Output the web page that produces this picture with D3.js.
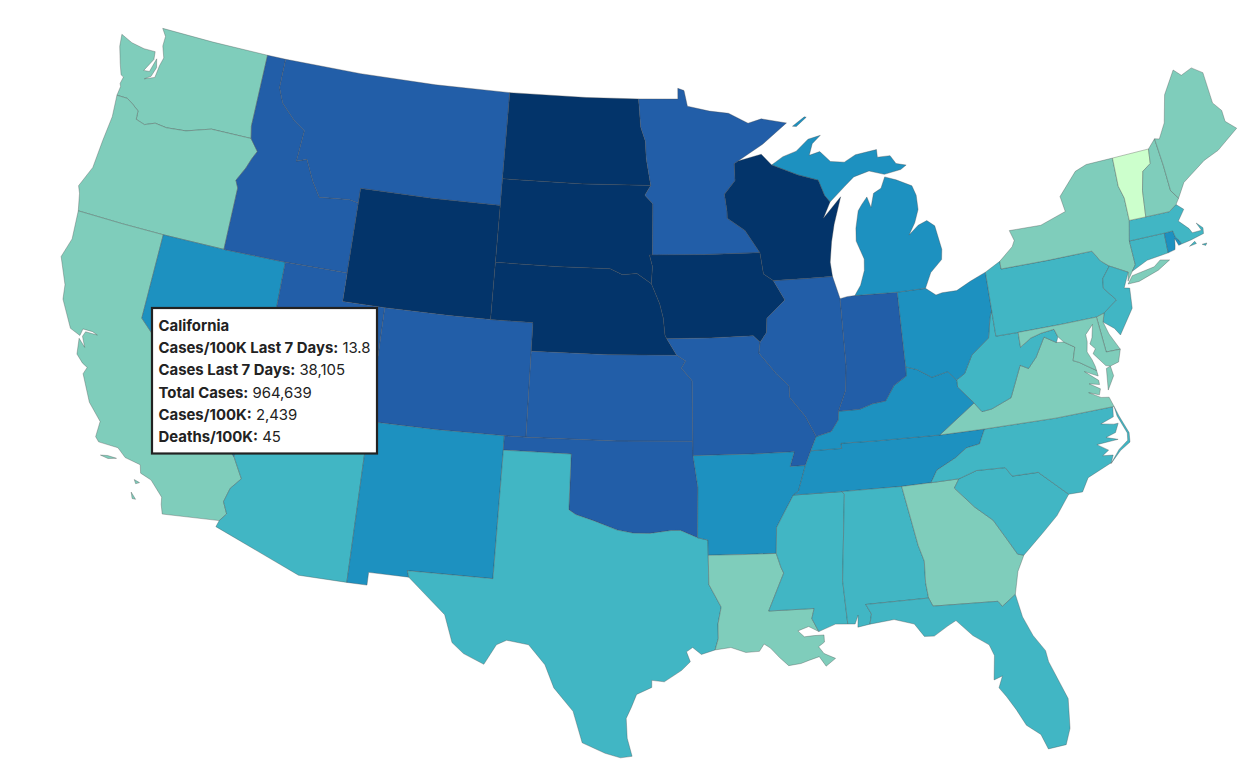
<!DOCTYPE html>
<html><head><meta charset="utf-8">
<script src="https://cdn.jsdelivr.net/npm/d3@7"></script>
<style>html,body{margin:0;padding:0;background:#fff}svg{display:block}</style>
</head><body><svg id="map" width="1243" height="764"></svg>
<script>
// --- state outlines: [lon,lat] rings ---
const WA=[[[-122.76,49],[-120,49],[-117.03,49],[-117.04,46.42],[-116.92,46],[-118.98,46],[-119.3,45.93],[-120.2,45.72],[-121.2,45.65],[-121.8,45.7],[-122.3,45.55],[-122.77,45.65],[-122.8,45.95],[-123.2,46.15],[-123.5,46.27],[-124.05,46.27],[-124.0,46.6],[-124.07,46.7],[-124.0,46.95],[-124.15,47.0],[-124.35,47.35],[-124.65,47.95],[-124.73,48.38],[-124.1,48.2],[-123.4,48.12],[-122.8,48.13],[-122.75,47.85],[-123.1,47.38],[-122.8,47.4],[-122.62,47.9],[-122.5,47.6],[-122.65,47.25],[-122.95,47.1],[-122.45,47.25],[-122.38,47.7],[-122.28,48],[-122.5,48.4],[-122.5,48.75]]];
const OR=[[[-124.05,46.27],[-123.5,46.27],[-123.2,46.15],[-122.8,45.95],[-122.77,45.65],[-122.3,45.55],[-121.8,45.7],[-121.2,45.65],[-120.2,45.72],[-119.3,45.93],[-118.98,46],[-116.92,46],[-116.47,45.6],[-116.67,45.3],[-116.85,44.95],[-117.2,44.45],[-117.03,44.2],[-117.03,43.83],[-117.03,42],[-120,42],[-122,42],[-124.21,42],[-124.4,42.6],[-124.55,42.84],[-124.15,43.6],[-124.07,44.6],[-123.96,45.5]]];
const CA=[[[-124.21,42],[-122,42],[-120,42],[-120,39],[-114.63,35],[-114.14,34.3],[-114.53,33.9],[-114.7,33.4],[-114.47,33],[-114.72,32.72],[-117.12,32.53],[-117.25,32.85],[-117.3,33.1],[-117.9,33.6],[-118.4,33.75],[-118.5,34.03],[-119.2,34.15],[-119.6,34.42],[-120.47,34.45],[-120.65,34.6],[-120.63,35.15],[-121.3,35.7],[-121.9,36.6],[-121.8,36.85],[-122.05,36.95],[-122.4,37.2],[-122.5,37.75],[-122.15,37.5],[-122.38,37.85],[-122.3,38.03],[-121.75,38.03],[-122.0,38.1],[-122.45,38.1],[-122.5,37.85],[-123,38],[-123.7,38.9],[-123.8,39.4],[-124.35,40.3],[-124.1,41]],[[-120.25,34.02],[-119.95,34.07],[-119.55,34.05],[-119.9,33.97]],[[-118.6,33.48],[-118.35,33.42],[-118.5,33.35]],[[-118.6,33.03],[-118.35,32.82],[-118.5,32.82]]];
const NV=[[[-120,42],[-117.03,42],[-114.04,42],[-114.05,37],[-114.05,36.2],[-114.74,36.1],[-114.63,35.5],[-114.63,35],[-120,39]]];
const ID=[[[-117.03,49],[-116.05,49],[-116.05,47.97],[-115.72,47.45],[-114.95,46.93],[-114.35,46.65],[-114.45,45.55],[-113.95,45.68],[-113.45,44.95],[-113,44.45],[-112.3,44.5],[-111.5,44.55],[-111.05,44.48],[-111.05,42],[-114.04,42],[-117.03,42],[-117.03,43.83],[-117.03,44.2],[-117.2,44.45],[-116.85,44.95],[-116.67,45.3],[-116.47,45.6],[-116.92,46],[-117.04,46.42]]];
const MT=[[[-116.05,49],[-112,49],[-108,49],[-104.05,49],[-104.05,45.94],[-104.05,45],[-107.5,45],[-111.05,45],[-111.05,44.48],[-111.5,44.55],[-112.3,44.5],[-113,44.45],[-113.45,44.95],[-113.95,45.68],[-114.45,45.55],[-114.35,46.65],[-114.95,46.93],[-115.72,47.45],[-116.05,47.97]]];
const WY=[[[-111.05,45],[-107.5,45],[-104.05,45],[-104.05,43],[-104.05,41],[-106,41],[-109.05,41],[-111.05,41],[-111.05,42],[-111.05,44.48]]];
const UT=[[[-114.04,42],[-111.05,42],[-111.05,41],[-109.05,41],[-109.05,37],[-111,37],[-114.05,37]]];
const CO=[[[-109.05,41],[-106,41],[-104.05,41],[-102.05,41],[-102.05,40],[-102.04,37],[-103,37],[-106,37],[-109.05,37]]];
const AZ=[[[-114.05,37],[-111,37],[-109.05,37],[-109.05,31.33],[-111.07,31.33],[-114.81,32.49],[-114.72,32.72],[-114.47,33],[-114.7,33.4],[-114.53,33.9],[-114.14,34.3],[-114.63,35],[-114.63,35.5],[-114.74,36.1],[-114.05,36.2]]];
const NM=[[[-109.05,37],[-106,37],[-103,37],[-103,36.5],[-103.04,32],[-106.62,32],[-106.53,31.78],[-108.21,31.78],[-108.21,31.33],[-109.05,31.33]]];
const ND=[[[-104.05,49],[-100,49],[-97.23,49],[-97.1,48],[-96.85,47.5],[-96.8,46.9],[-96.56,45.94],[-100,45.94],[-104.05,45.94]]];
const SD=[[[-104.05,45.94],[-100,45.94],[-96.56,45.94],[-96.85,45.6],[-96.45,45.3],[-96.45,43.5],[-96.6,43.5],[-96.45,43.1],[-96.5,42.5],[-97.2,42.85],[-97.9,42.8],[-98.5,43],[-101,43],[-104.05,43],[-104.05,45]]];
const NE=[[[-104.05,43],[-101,43],[-98.5,43],[-97.9,42.8],[-97.2,42.85],[-96.5,42.5],[-96.1,41.8],[-95.93,41.3],[-95.85,40.7],[-95.77,40.58],[-95.31,40],[-98.5,40],[-102.05,40],[-102.05,41],[-104.05,41]]];
const KS=[[[-102.05,40],[-98.5,40],[-95.31,40],[-94.9,39.8],[-95.1,39.55],[-94.61,39.11],[-94.62,37],[-98,37],[-102.04,37]]];
const OK=[[[-103,37],[-102.04,37],[-98,37],[-94.62,37],[-94.62,36.5],[-94.43,35.4],[-94.48,33.64],[-95.2,33.9],[-95.6,33.9],[-96.5,33.8],[-97.2,33.8],[-97.9,33.9],[-98.9,34.2],[-99.7,34.4],[-100,34.56],[-100,36.5],[-103,36.5]]];
const TX=[[[-106.62,32],[-103.04,32],[-103,36.5],[-100,36.5],[-100,34.56],[-99.7,34.4],[-98.9,34.2],[-97.9,33.9],[-97.2,33.8],[-96.5,33.8],[-95.6,33.9],[-95.2,33.9],[-94.48,33.64],[-94.04,33.55],[-94.04,33.02],[-94.04,32],[-93.55,31.2],[-93.7,30.6],[-93.7,30.1],[-93.84,29.7],[-94.4,29.55],[-94.75,29.8],[-95,29.65],[-94.85,29.3],[-95.2,29],[-95.9,28.6],[-96.4,28.65],[-96.4,28.4],[-97,28.15],[-97.2,27.7],[-97.4,27.3],[-97.35,26.6],[-97.15,25.96],[-97.6,25.9],[-98.2,26.05],[-99.1,26.4],[-99.5,27.5],[-100.3,28.3],[-100.7,29.1],[-101.4,29.77],[-102.3,29.88],[-102.7,29.7],[-103.15,28.98],[-104,29.3],[-104.5,29.65],[-104.9,30.6],[-106,31.4],[-106.53,31.78]]];
const MN=[[[-97.23,49],[-95.15,49],[-95.15,49.38],[-94.82,49.3],[-94.65,48.74],[-93.5,48.55],[-92.5,48.45],[-91.5,48.07],[-90.8,48.2],[-89.5,48],[-90.8,47.3],[-92.1,46.75],[-92.3,46.66],[-92.29,46.07],[-92.85,45.6],[-92.75,45],[-92.75,44.75],[-91.9,44.3],[-91.22,43.5],[-94,43.5],[-96.45,43.5],[-96.45,45.3],[-96.85,45.6],[-96.56,45.94],[-96.8,46.9],[-96.85,47.5],[-97.1,48]]];
const IA=[[[-96.45,43.5],[-94,43.5],[-91.22,43.5],[-91.1,42.75],[-90.65,42.5],[-90.15,41.8],[-91.05,41.2],[-91.1,40.7],[-91.42,40.38],[-91.73,40.61],[-93.7,40.59],[-95.77,40.58],[-95.85,40.7],[-95.93,41.3],[-96.1,41.8],[-96.5,42.5],[-96.45,43.1],[-96.6,43.5]]];
const MO=[[[-95.77,40.58],[-93.7,40.59],[-91.73,40.61],[-91.42,40.38],[-91.5,40],[-90.75,39.25],[-90.2,38.8],[-90.2,38.4],[-89.55,37.7],[-89.13,36.98],[-89.42,36.5],[-89.7,36],[-90.37,36],[-90.15,36.5],[-92,36.5],[-94.62,36.5],[-94.62,37],[-94.61,39.11],[-95.1,39.55],[-94.9,39.8],[-95.31,40]]];
const AR=[[[-94.62,36.5],[-92,36.5],[-90.15,36.5],[-90.37,36],[-89.7,36],[-90.07,35.13],[-90.3,35],[-90.6,34.6],[-91.1,33.9],[-91.17,33],[-92.6,33.01],[-94.04,33.02],[-94.04,33.55],[-94.48,33.64],[-94.43,35.4]]];
const LA=[[[-94.04,33.02],[-92.6,33.01],[-91.17,33],[-91,32.5],[-90.9,32.3],[-91.6,31],[-89.73,31],[-89.85,30.65],[-89.6,30.18],[-90,30.38],[-90.45,30.25],[-90.2,30.03],[-89.8,30.05],[-89.4,30.05],[-89.4,29.8],[-89.65,29.65],[-89.45,29.4],[-89,29.2],[-89.4,28.95],[-89.65,29.3],[-90.05,29.2],[-90.4,29.1],[-90.9,29.05],[-91.25,29.35],[-91.6,29.7],[-91.85,29.85],[-92.05,29.6],[-92.6,29.58],[-93.2,29.77],[-93.84,29.7],[-93.7,30.1],[-93.7,30.6],[-93.55,31.2],[-94.04,32]]];
const MS=[[[-90.3,35],[-88.2,35],[-88.1,34.9],[-88.47,31.9],[-88.4,30.37],[-88.9,30.4],[-89.6,30.18],[-89.85,30.65],[-89.73,31],[-91.6,31],[-90.9,32.3],[-91,32.5],[-91.17,33],[-91.1,33.9],[-90.6,34.6]]];
const TN=[[[-90.3,35],[-90.07,35.13],[-89.7,36],[-89.42,36.5],[-88.05,36.5],[-88.07,36.68],[-86.5,36.65],[-83.68,36.6],[-81.68,36.59],[-82,36.1],[-82.6,36.03],[-83.1,35.75],[-84,35.4],[-84.32,34.99],[-85.6,34.98],[-88.2,35]]];
const AL=[[[-88.2,35],[-85.6,34.98],[-85.18,32.87],[-85,32.3],[-85.05,31.55],[-85,31],[-87.6,31],[-87.4,30.65],[-87.5,30.3],[-88,30.23],[-87.95,30.65],[-88.1,30.35],[-88.4,30.37],[-88.47,31.9],[-88.1,34.9]]];
const GA=[[[-85.6,34.98],[-84.32,34.99],[-83.1,35],[-83.35,34.7],[-82.6,33.95],[-81.9,33.4],[-81.4,32.6],[-81.1,32.1],[-80.85,32.03],[-81.2,31.5],[-81.45,30.72],[-82.05,30.37],[-82.2,30.57],[-84.86,30.7],[-85,31],[-85.05,31.55],[-85,32.3],[-85.18,32.87]]];
const FL=[[[-87.6,31],[-85,31],[-84.86,30.7],[-82.2,30.57],[-82.05,30.37],[-81.45,30.72],[-81.3,29.9],[-81,29.2],[-80.6,28.6],[-80.55,28.2],[-80.03,26.8],[-80.15,25.75],[-80.4,25.2],[-81.1,25.15],[-81.3,25.7],[-81.8,26.1],[-82.1,26.7],[-82.4,27.2],[-82.65,27.55],[-82.45,27.95],[-82.8,27.85],[-82.65,28.7],[-82.8,29.1],[-83.4,29.5],[-84,30.1],[-84.35,29.95],[-84.95,29.65],[-85.35,29.68],[-85.7,30.15],[-86.5,30.38],[-87.5,30.3],[-87.4,30.65]]];
const SC=[[[-83.1,35],[-82.3,35.2],[-81.05,35.15],[-80.8,34.82],[-79.67,34.8],[-78.55,33.86],[-79.2,33.2],[-79.9,32.7],[-80.85,32.03],[-81.1,32.1],[-81.4,32.6],[-81.9,33.4],[-82.6,33.95],[-83.35,34.7]]];
const NC=[[[-84.32,34.99],[-84,35.4],[-83.1,35.75],[-82.6,36.03],[-82,36.1],[-81.68,36.59],[-78.5,36.55],[-75.93,36.55],[-76,36.2],[-76.6,36.05],[-76.05,35.95],[-75.85,35.95],[-76.05,35.65],[-76.5,35.55],[-76,35.4],[-76.95,35.37],[-76.5,35.1],[-76.8,34.95],[-76.35,34.9],[-76.5,34.65],[-77.6,34.3],[-77.95,33.85],[-78.55,33.86],[-79.67,34.8],[-80.8,34.82],[-81.05,35.15],[-82.3,35.2],[-83.1,35]],[[-75.87,36.55],[-75.75,36.2],[-75.47,35.55],[-75.52,35.22],[-76,35],[-76.52,34.62],[-76.05,35.05],[-75.6,35.3],[-75.55,35.55],[-75.83,36.2]]];
const VA=[[[-83.68,36.6],[-81.68,36.59],[-78.5,36.55],[-75.87,36.55],[-76,36.9],[-76.35,36.95],[-76.85,37.2],[-76.4,37.05],[-76.3,37.25],[-76.75,37.5],[-76.3,37.4],[-76.3,37.55],[-76.85,37.95],[-76.28,37.7],[-76.3,37.9],[-77,38.3],[-77.25,38.4],[-77.05,38.85],[-77.5,39.1],[-77.83,39.13],[-78.35,39.4],[-78.87,38.76],[-79.3,38.42],[-79.65,38.58],[-80.3,37.52],[-81.23,37.24],[-81.68,37.2],[-81.97,37.54]],[[-75.97,37.15],[-75.85,37.9],[-75.65,37.95],[-75.6,37.6]]];
const WV=[[[-81.97,37.54],[-82.6,38.17],[-82.6,38.42],[-82.2,38.6],[-81.75,39.2],[-80.87,39.7],[-80.65,40.4],[-80.52,40.64],[-80.52,39.72],[-79.48,39.72],[-79.49,39.2],[-78.95,39.45],[-78.45,39.55],[-77.83,39.6],[-77.72,39.32],[-77.83,39.13],[-78.35,39.4],[-78.87,38.76],[-79.3,38.42],[-79.65,38.58],[-80.3,37.52],[-81.23,37.24],[-81.68,37.2]]];
const KY=[[[-89.42,36.5],[-89.13,36.98],[-88.45,37.12],[-88.1,37.5],[-88.05,37.8],[-87.1,37.8],[-86.5,37.95],[-85.9,38],[-85.45,38.5],[-84.85,38.78],[-84.82,39.1],[-84.3,38.95],[-83.7,38.63],[-82.95,38.75],[-82.6,38.42],[-82.6,38.17],[-81.97,37.54],[-83.68,36.6],[-86.5,36.65],[-88.07,36.68],[-88.05,36.5]]];
const IL=[[[-90.65,42.5],[-89,42.5],[-87.8,42.5],[-87.53,41.7],[-87.53,39.35],[-87.65,38.5],[-88.05,37.8],[-88.1,37.5],[-88.45,37.12],[-89.13,36.98],[-89.55,37.7],[-90.2,38.4],[-90.2,38.8],[-90.75,39.25],[-91.5,40],[-91.42,40.38],[-91.1,40.7],[-91.05,41.2],[-90.15,41.8]]];
const IN=[[[-87.53,41.7],[-87.2,41.75],[-86.82,41.76],[-84.8,41.72],[-84.82,39.1],[-84.85,38.78],[-85.45,38.5],[-85.9,38],[-86.5,37.95],[-87.1,37.8],[-88.05,37.8],[-87.65,38.5],[-87.53,39.35]]];
const OH=[[[-84.8,41.72],[-83.45,41.73],[-83,41.45],[-82.7,41.5],[-82,41.5],[-81.3,41.75],[-80.52,41.98],[-80.52,40.64],[-80.65,40.4],[-80.87,39.7],[-81.75,39.2],[-82.2,38.6],[-82.6,38.42],[-82.95,38.75],[-83.7,38.63],[-84.3,38.95],[-84.82,39.1]]];
const MI=[[[-86.82,41.76],[-84.8,41.72],[-83.45,41.73],[-83.1,42.25],[-82.5,42.65],[-82.42,43],[-82.6,43.85],[-82.95,44.07],[-83.4,43.95],[-83.9,43.65],[-83.55,44.05],[-83.3,44.5],[-83.3,45],[-83.45,45.35],[-84.2,45.63],[-84.75,45.78],[-85,45.4],[-85.4,45.25],[-85.6,44.77],[-85.75,45.15],[-86.05,44.9],[-86.25,44.7],[-86.45,44.1],[-86.5,43.65],[-86.2,43],[-86.25,42.6],[-86.5,42.1]],[[-90.4,46.55],[-89.8,46.82],[-89.1,46.98],[-88.45,47.37],[-87.8,47.47],[-88.25,47.2],[-88.45,46.8],[-87.9,46.9],[-87.4,46.52],[-86.7,46.45],[-86.1,46.67],[-85,46.77],[-85,46.5],[-84.35,46.5],[-84.1,46.2],[-83.6,46.1],[-83.9,45.97],[-84.75,45.87],[-85.5,46.05],[-86.3,45.9],[-86.8,45.6],[-87.6,45.1],[-87.85,45.35],[-88.1,45.9],[-89.1,46.14]],[[-89.2,47.87],[-88.55,48.17],[-88.45,48.15],[-89,47.85]]];
const WI=[[[-92.1,46.75],[-90.9,46.95],[-90.4,46.55],[-89.1,46.14],[-88.1,45.9],[-87.85,45.35],[-87.6,45.1],[-88,44.55],[-87.05,45.25],[-87.5,44.3],[-87.7,43.7],[-87.85,43],[-87.8,42.5],[-89,42.5],[-90.65,42.5],[-91.1,42.75],[-91.22,43.5],[-91.9,44.3],[-92.75,44.75],[-92.75,45],[-92.85,45.6],[-92.29,46.07],[-92.3,46.66]]];
const PA=[[[-80.52,41.98],[-79.76,42.27],[-79.76,42],[-77.5,42],[-75.35,42],[-75.05,41.6],[-74.7,41.36],[-75.13,40.98],[-75.2,40.65],[-74.72,40.15],[-75.42,39.8],[-75.8,39.72],[-77.5,39.72],[-79.48,39.72],[-80.52,39.72],[-80.52,40.64]]];
const NY=[[[-79.76,42.27],[-79.05,42.7],[-78.9,42.9],[-79.05,43.27],[-77.5,43.25],[-76.2,43.55],[-76.3,44.1],[-75.3,44.85],[-74.7,45],[-73.35,45.01],[-73.4,44],[-73.25,43.55],[-73.27,42.75],[-73.5,42.05],[-73.49,41.2],[-73.7,41],[-74,40.7],[-73.9,41],[-74.7,41.36],[-75.05,41.6],[-75.35,42],[-77.5,42],[-79.76,42]],[[-74.03,40.6],[-73.75,40.85],[-72.65,40.97],[-72.3,41.15],[-71.87,41.07],[-72.5,40.82],[-73.5,40.6]]];
const NJ=[[[-74.7,41.36],[-73.9,41],[-74.25,40.5],[-74,40.45],[-74.1,39.75],[-74.9,38.93],[-75.1,39.2],[-75.55,39.5],[-75.42,39.8],[-74.72,40.15],[-75.2,40.65],[-75.13,40.98]]];
const DE=[[[-75.8,39.72],[-75.42,39.8],[-75.55,39.5],[-75.4,39.05],[-75.05,38.45],[-75.7,38.46]]];
const MD=[[[-79.48,39.72],[-77.5,39.72],[-75.8,39.72],[-75.7,38.46],[-75.05,38.45],[-75.25,38.03],[-75.65,37.95],[-75.85,38],[-76.3,38.5],[-76.15,38.65],[-76.35,38.85],[-76.2,39.05],[-76.05,39.5],[-76.45,39.2],[-76.45,38.95],[-76.55,38.6],[-76.4,38.3],[-76.32,38.05],[-76.3,37.9],[-77,38.3],[-77.25,38.4],[-77.05,38.85],[-77.5,39.1],[-77.72,39.32],[-77.83,39.6],[-78.45,39.55],[-78.95,39.45],[-79.49,39.2]]];
const CT=[[[-73.5,42.05],[-71.8,42.02],[-71.85,41.32],[-72.9,41.25],[-73.7,41],[-73.49,41.2]]];
const RI=[[[-71.8,42.02],[-71.38,42.02],[-71.33,41.78],[-71.2,41.65],[-71.13,41.5],[-71.28,41.48],[-71.38,41.75],[-71.45,41.5],[-71.5,41.37],[-71.85,41.32]]];
const MA=[[[-73.5,42.05],[-73.27,42.75],[-72.46,42.73],[-71.3,42.7],[-70.9,42.88],[-70.6,42.65],[-71,42.3],[-70.6,41.95],[-70.5,41.78],[-70.05,41.78],[-70.2,42.07],[-69.95,41.85],[-70,41.65],[-70.65,41.55],[-71.13,41.5],[-71.2,41.65],[-71.33,41.78],[-71.38,42.02],[-71.8,42.02]],[[-70.8,41.35],[-70.5,41.47],[-70.45,41.38]],[[-70.2,41.3],[-69.97,41.3],[-70.05,41.23]]];
const VT=[[[-73.35,45.01],[-71.5,45.01],[-71.6,44.5],[-72.05,44.3],[-72.3,43.65],[-72.46,42.73],[-73.27,42.75],[-73.25,43.55],[-73.4,44]]];
const NH=[[[-71.5,45.01],[-71.08,45.3],[-71,44.3],[-70.98,43.4],[-70.7,43.07],[-70.9,42.88],[-71.3,42.7],[-72.46,42.73],[-72.3,43.65],[-72.05,44.3],[-71.6,44.5]]];
const ME=[[[-71.08,45.3],[-70.85,45.25],[-70.4,45.75],[-70,46.7],[-69.23,47.46],[-68.9,47.2],[-68.3,47.35],[-67.8,47.07],[-67.78,45.95],[-67.45,45.6],[-67.45,45.2],[-67,44.85],[-68.2,44.3],[-69,44.1],[-69.8,43.75],[-70.25,43.55],[-70.7,43.07],[-70.98,43.4],[-71,44.3]]];

const stateNames=["Washington","Oregon","California","Nevada","Idaho","Montana","Wyoming","Utah","Colorado","Arizona","New Mexico","North Dakota","South Dakota","Nebraska","Kansas","Oklahoma","Texas","Minnesota","Iowa","Missouri","Arkansas","Louisiana","Mississippi","Tennessee","Alabama","Georgia","Florida","South Carolina","North Carolina","Virginia","West Virginia","Kentucky","Illinois","Indiana","Ohio","Michigan","Wisconsin","Pennsylvania","New York","New Jersey","Delaware","Maryland","Connecticut","Rhode Island","Massachusetts","Vermont","New Hampshire","Maine"];
const stateShapes=[WA,OR,CA,NV,ID,MT,WY,UT,CO,AZ,NM,ND,SD,NE,KS,OK,TX,MN,IA,MO,AR,LA,MS,TN,AL,GA,FL,SC,NC,VA,WV,KY,IL,IN,OH,MI,WI,PA,NY,NJ,DE,MD,CT,RI,MA,VT,NH,ME];
// colour class of each state, 0 (lowest) .. 5 (highest), same order as stateNames
const stateBins=[1,1,1,3,4,4,5,4,4,2,3,5,5,5,4,4,2,4,5,4,3,1,2,3,2,1,2,2,2,1,2,3,4,4,3,3,5,2,1,2,1,1,2,3,2,0,1,1];
const binColors=["#ccffcc","#7fcdbb","#41b6c4","#1d91c0","#225ea8","#03346a"];

const tipTitle="California";
const tipLabels=["Cases/100K Last 7 Days:","Cases Last 7 Days:","Total Cases:","Cases/100K:","Deaths/100K:"];
const tipValues=["13.8","38,105","964,639","2,439","45"];

const svg=d3.select("#map");
const projection=d3.geoAlbers().scale(1630).translate([648.6,392.7]);
const path=d3.geoPath(projection);
const color=d3.scaleOrdinal([0,1,2,3,4,5],binColors);

function polygonOf(ring){
  const closed=ring.concat([ring[0]]);
  const g={type:"Polygon",coordinates:[closed]};
  if(d3.geoArea(g)>2*Math.PI) g.coordinates=[closed.slice().reverse()];
  return g;
}
const features=stateNames.map((n,i)=>({type:"Feature",properties:{name:n,bin:stateBins[i]},
  geometry:{type:"GeometryCollection",geometries:stateShapes[i].map(polygonOf)}}));

svg.append("g").selectAll("path").data(features).join("path")
  .attr("d",path).attr("fill",d=>color(d.properties.bin))
  .attr("stroke","#444").attr("stroke-opacity",.55).attr("stroke-width",.6).attr("stroke-linejoin","round");

const tip=svg.append("g").attr("transform","translate(152,308)");
tip.append("rect").attr("x",0).attr("y",0).attr("width",225).attr("height",145.5)
  .attr("fill","#fff").attr("stroke","#222").attr("stroke-width",2.2);
const tipFont="Inter, 'Noto Sans', sans-serif";
tip.append("text").attr("x",6.5).attr("y",23).attr("font-family",tipFont).attr("font-size",14.9)
  .attr("font-weight",700).attr("fill","#222").text(tipTitle);
tipLabels.forEach((l,i)=>{
  const t=tip.append("text").attr("x",6.5).attr("y",45.2+i*22.2).attr("font-family",tipFont).attr("font-size",14.9).attr("fill","#222");
  t.append("tspan").attr("font-weight",700).text(l);
  t.append("tspan").attr("font-weight",400).text(" "+tipValues[i]);
});
</script></body></html>
